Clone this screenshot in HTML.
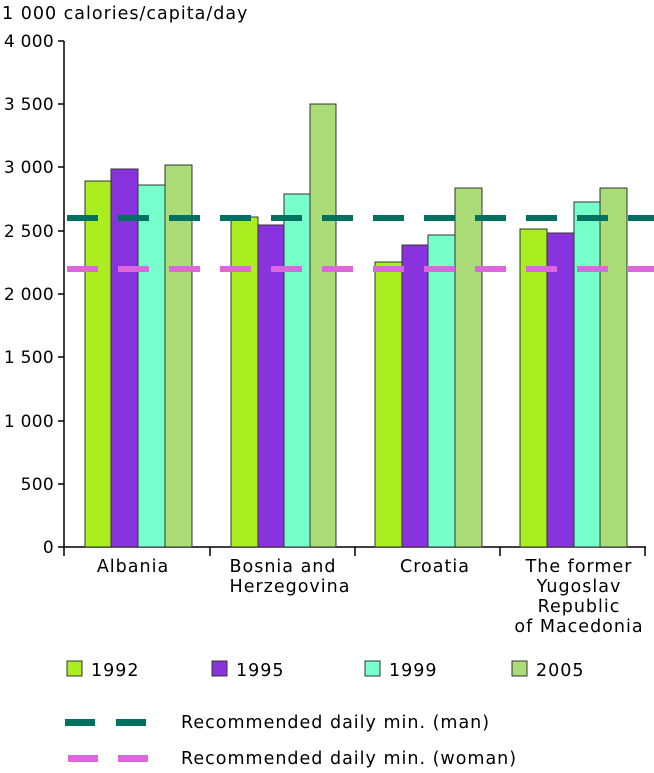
<!DOCTYPE html>
<html><head><style>
body{margin:0;background:#fff;}
svg text{font-family:"DejaVu Sans","Liberation Sans",sans-serif;font-size:17.5px;letter-spacing:1px;fill:#000;}
svg .yl text{letter-spacing:0.3px;font-size:17px;}
</style></head><body>
<svg width="654" height="768" xmlns="http://www.w3.org/2000/svg">
<text x="2" y="19">1 000 calories/capita/day</text>
<g text-anchor="end" class="yl">
<text x="54" y="553">0</text>
<text x="54" y="490">500</text>
<text x="54" y="427">1 000</text>
<text x="54" y="363">1 500</text>
<text x="54" y="300">2 000</text>
<text x="54" y="237">2 500</text>
<text x="54" y="173">3 000</text>
<text x="54" y="110">3 500</text>
<text x="54" y="47">4 000</text>
</g>
<g stroke="#000" stroke-width="1.5">
<line x1="64" y1="41" x2="64" y2="556"/>
<line x1="64" y1="547" x2="646" y2="547"/>
<line x1="58" y1="547" x2="64" y2="547"/><line x1="58" y1="484" x2="64" y2="484"/>
<line x1="58" y1="421" x2="64" y2="421"/><line x1="58" y1="357" x2="64" y2="357"/>
<line x1="58" y1="294" x2="64" y2="294"/><line x1="58" y1="231" x2="64" y2="231"/>
<line x1="58" y1="167" x2="64" y2="167"/><line x1="58" y1="104" x2="64" y2="104"/>
<line x1="58" y1="41" x2="64" y2="41"/>
<line x1="210" y1="547" x2="210" y2="556"/><line x1="355" y1="547" x2="355" y2="556"/>
<line x1="500" y1="547" x2="500" y2="556"/><line x1="645" y1="547" x2="645" y2="556"/>
</g>
<g stroke="#333" stroke-width="1">
<rect x="85" y="181" width="26" height="366" fill="#aaee22"/>
<rect x="111" y="169" width="27" height="378" fill="#8833dd"/>
<rect x="138" y="185" width="27" height="362" fill="#77ffcc"/>
<rect x="165" y="165" width="27" height="382" fill="#aadd77"/>
<rect x="231" y="217" width="27" height="330" fill="#aaee22"/>
<rect x="258" y="225" width="26" height="322" fill="#8833dd"/>
<rect x="284" y="194" width="26" height="353" fill="#77ffcc"/>
<rect x="310" y="104" width="26" height="443" fill="#aadd77"/>
<rect x="375" y="262" width="27" height="285" fill="#aaee22"/>
<rect x="402" y="245" width="26" height="302" fill="#8833dd"/>
<rect x="428" y="235" width="27" height="312" fill="#77ffcc"/>
<rect x="455" y="188" width="27" height="359" fill="#aadd77"/>
<rect x="520" y="229" width="27" height="318" fill="#aaee22"/>
<rect x="547" y="233" width="27" height="314" fill="#8833dd"/>
<rect x="574" y="202" width="26" height="345" fill="#77ffcc"/>
<rect x="600" y="188" width="27" height="359" fill="#aadd77"/>
</g>
<line x1="64" y1="218" x2="654" y2="218" stroke="#007060" stroke-width="6" stroke-dasharray="31,20" stroke-dashoffset="-3"/>
<line x1="64" y1="269" x2="654" y2="269" stroke="#dd66dd" stroke-width="6" stroke-dasharray="31,20" stroke-dashoffset="-3"/>
<g text-anchor="middle">
<text x="133" y="572">Albania</text>
<text x="283" y="572">Bosnia and</text><text x="290" y="592">Herzegovina</text>
<text x="435" y="572">Croatia</text>
<text x="579" y="572">The former</text><text x="579" y="592">Yugoslav</text>
<text x="579" y="612">Republic</text><text x="579" y="632">of Macedonia</text>
</g>
<g stroke="#333" stroke-width="1">
<rect x="67" y="661" width="15" height="15" fill="#aaee22"/>
<rect x="212" y="661" width="15" height="15" fill="#8833dd"/>
<rect x="365" y="661" width="15" height="15" fill="#77ffcc"/>
<rect x="512" y="661" width="15" height="15" fill="#aadd77"/>
</g>
<text x="91" y="676">1992</text><text x="236" y="676">1995</text>
<text x="389" y="676">1999</text><text x="536" y="676">2005</text>
<rect x="65" y="719" width="30" height="7" fill="#007060"/>
<rect x="116" y="719" width="30" height="7" fill="#007060"/>
<rect x="68" y="755" width="30" height="7" fill="#dd66dd"/>
<rect x="118" y="755" width="30" height="7" fill="#dd66dd"/>
<text x="181" y="728">Recommended daily min. (man)</text>
<text x="181" y="764">Recommended daily min. (woman)</text>
</svg>
</body></html>
